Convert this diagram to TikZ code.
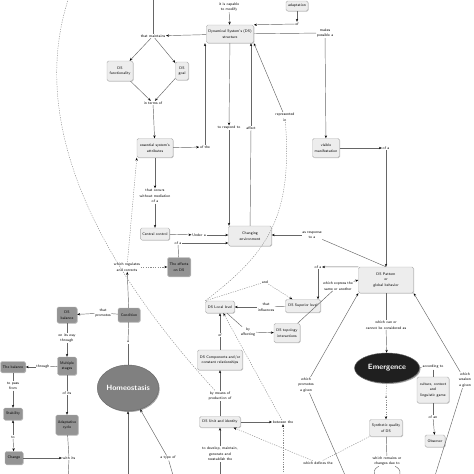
\documentclass[tikz,border=0pt]{standalone}
\usepackage{fontspec}
\usetikzlibrary{arrows.meta, shapes.geometric, shadows}

\newcommand{\mapfont}{\fontsize{3.8}{5.5}\selectfont\sffamily}
\newcommand{\bigmapfont}{\fontsize{7.6}{8}\selectfont\sffamily\bfseries}

\tikzset{
    concept/.style={draw=black!32, fill=black!7, rounded corners=1.5pt, align=center,
        inner xsep=2pt, inner ysep=2pt,
        drop shadow={shadow xshift=.6pt, shadow yshift=-.6pt, fill=black, opacity=.25}},
    darkconcept/.style={concept, fill=black!42, draw=black!30},
    link/.style={align=center, inner sep=.6pt},
    bigconcept/.style={ellipse, inner sep=0pt, text=white, font=\bigmapfont, draw=black!60,
        drop shadow={shadow xshift=1pt, shadow yshift=-1pt, fill=black, opacity=.35}},
    boxsize/.style 2 args={minimum width=#1pt, minimum height=#2pt},
    dots/.style={dash pattern=on 1.2pt off 1.2pt, draw=black!45},
}

\begin{document}
\begin{tikzpicture}[x=1pt, y=-1pt, font=\mapfont]

    \clip (0,0) rectangle (474,474);

    % Add the concepts
    \node[concept, boxsize={22}{10}]        (adapt)    at (297,6)     {adaptation};
    \node[concept, boxsize={46}{18}]        (dss)      at (230,34)    {Dynamical System's (DS)\\structure};
    \node[concept, boxsize={26}{20}]        (func)     at (120,71)    {DS\\functionality};
    \node[concept, boxsize={13}{18}]        (goal)     at (182,71)    {DS\\goal};
    \node[concept, boxsize={36}{19}]        (ess)      at (155,148)   {essential system's\\attributes};
    \node[concept, boxsize={27}{19}]        (vis)      at (326,148)   {visible\\manifestation};
    \node[concept, boxsize={27}{12}]        (central)  at (155,234)   {Central control};
    \node[concept, boxsize={43}{20}]        (env)      at (250,236)   {Changing\\environment};
    \node[concept, boxsize={55}{26}]        (pattern)  at (386,280)   {DS Pattern\\or\\global behavior};
    \node[concept, boxsize={35}{13}]        (sup)      at (303,306)   {DS Superior level};
    \node[concept, boxsize={29}{12}]        (local)    at (220,307)   {DS Local level};
    \node[concept, boxsize={26}{19}]        (topo)     at (287,333)   {DS topology\\interactions};
    \node[concept, boxsize={45}{20}]        (comp)     at (220,360)   {DS Components and/or\\constant relationships};
    \node[concept, boxsize={41}{11}]        (unit)     at (220,422)   {DS Unit and identity};
    \node[concept, boxsize={32}{26}]        (culture)  at (433,390)   {culture, context\\and\\linguistic game};
    \node[concept, boxsize={20}{12}]        (observer) at (435,441)   {Observer};
    \node[concept, boxsize={33}{17}]        (synth)    at (386,428)   {Synthetic quality\\of DS};

    \node[darkconcept, boxsize={23}{19}]    (effects)  at (179,267)   {The effects\\on DS};
    \node[darkconcept, boxsize={22}{14}]    (cond)     at (129,315)   {Condition};
    \node[darkconcept, boxsize={20}{16}]    (balance)  at (67,315)    {DS\\balance};
    \node[darkconcept, boxsize={19}{18}]    (stages)   at (67,366)    {Multiple\\stages};
    \node[darkconcept, boxsize={25}{11}]    (thebal)   at (13,367)    {The balance};
    \node[darkconcept, boxsize={19}{12}]    (stab)     at (13,414)    {Stability};
    \node[darkconcept, boxsize={18}{13}]    (change)   at (14,458)    {Change};
    \node[darkconcept, boxsize={20}{20}]    (cycle)    at (67,425)    {Adaptative\\cycle};

    \node[bigconcept, fill=black!88, boxsize={65}{30}] (emerg) at (387,368) {Emergence};
    \node[bigconcept, fill=black!50, boxsize={57}{46}] (homeo) at (128,388) {Homeostasis};

    % Add the linking phrases
    \node[link] (capable)   at (229,7)   {it is capable\\to modify};
    \node[link] (ofadapt)   at (297,24)  {of};
    \node[link] (maint)     at (153,36)  {that maintains};
    \node[link] (terms)     at (153,103) {in terms of};
    \node[link] (ofthe)     at (205,147) {of the};
    \node[link] (respond)   at (229,128) {to respond to};
    \node[link] (affect)    at (251,128) {affect};
    \node[link] (repr)      at (285,117) {represented\\in};
    \node[link] (makes)     at (325,33)  {makes\\possible a};
    \node[link] (ofa1)      at (386,148) {of a};
    \node[link] (occurs)    at (155,196) {that occurs\\without mediation\\of a};
    \node[link] (under)     at (199,235) {Under a};
    \node[link] (ofa2)      at (178,243) {of a};
    \node[link] (regul)     at (127,267) {which regulates\\and corrects};
    \node[link] (resp)      at (312,235) {as response\\to a};
    \node[link] (ofa3)      at (318,267) {of a};
    \node[link] (express)   at (338,286) {which express the\\same or another};
    \node[link] (influ)     at (266,307) {that\\influences};
    \node[link] (andl)      at (265,282) {and};
    \node[link] (affecting) at (248,332) {by\\affecting};
    \node[link] (of1)       at (220,335) {of};
    \node[link] (means)     at (220,396) {by means of\\production of};
    \node[link] (between)   at (283,422) {between the};
    \node[link] (develop)   at (220,454) {to develop, maintain,\\generate and\\reestablish the};
    \node[link] (defines)   at (318,463) {which defines the};
    \node[link] (consid)    at (386,325) {which can or\\cannot be considered as};
    \node[link] (accord)    at (433,367) {according to};
    \node[link] (ofan)      at (433,417) {of an};
    \node[link] (weaken)    at (465,380) {which\\weaken\\a given};
    \node[link] (promotes)  at (306,385) {which\\promotes\\a given};
    \node[link] (a2)        at (386,398) {a};
    \node[link] (remains)   at (387,461) {which remains or\\changes due to};
    \node[link] (a1)        at (128,342) {a};
    \node[link] (promotesl) at (103,313) {that\\promotes};
    \node[link] (way)       at (67,338)  {on its way\\through};
    \node[link] (through)   at (43,367)  {through};
    \node[link] (pass)      at (13,386)  {to pass\\from};
    \node[link] (to)        at (13,437)  {to};
    \node[link] (ofits)     at (67,393)  {of its};
    \node[link] (withits)   at (69,458)  {with its};
    \node[link] (typeof)    at (168,458) {a type of};

    % Free ends outside the frame
    \coordinate (topline)    at (153,-6);
    \coordinate (topdash)    at (70,-6);
    \coordinate (cyclebelow) at (68,482);
    \coordinate (homeobelow) at (128,482);
    \coordinate (typebelow)  at (175,482);
    \coordinate (devbelow)   at (220,482);
    \coordinate (betwbelow)  at (283,482);
    \coordinate (weakbelow)  at (433,482);
    \coordinate (promobelow) at (348,482);
    \coordinate (remleft)    at (377,482);
    \coordinate (remright)   at (398,482);

    % Connect the concepts
    \draw[line width=.45pt,
          color=black!60,
          >={Stealth[length=3pt, width=2.4pt, color=black]}]
        (capable)   edge[->] (dss)
        (adapt)     edge[->] (ofadapt)
        (ofadapt)   edge[->] (dss.north east)
        (dss)       edge[->] (maint)
        (maint)     edge     (topline)
        (maint)     edge[->] (func)
        (maint)     edge[->] (goal)
        (func)      edge[->] (terms)
        (goal)      edge[->] (terms)
        (terms)     edge[->] (ess)
        (ess)       edge[->] (ofthe)
        (ofthe)     edge[->] (ofthe |- dss.south)
        (dss)       edge[->] (respond)
        (respond)   edge[->] (respond |- env.north)
        (env)       edge     (affect)
        (affect)    edge[->] (affect |- dss.south)
        (repr)      edge[->] (dss.south east)
        (dss)       edge     (makes)
        (makes)     edge[->] (vis)
        (vis)       edge[->] (ofa1)
        (ofa1)      edge[->] (pattern)
        (ess)       edge[->] (occurs)
        (occurs)    edge[->] (central)
        (central)   edge[->] (under)
        (under)     edge[->] (under -| env.west)
        (effects)   edge     (ofa2)
        (ofa2)      edge[->] (ofa2 -| env.west)
        (cond)      edge[->] (regul)
        (regul)     edge[dots, ->] (effects)
        (regul)     edge[dots, ->] (ess.south west)
        (pattern.north) edge (resp)
        (resp)      edge[->] (resp -| env.east)
        (pattern.north west) edge[->] (ofa3)
        (ofa3)      edge[->] (ofa3 |- sup.north)
        (topo)      edge     (express)
        (express)   edge[->] (pattern.west)
        (sup)       edge     (influ)
        (influ)     edge[->] (local)
        (local)     edge     (affecting)
        (affecting) edge[->] (topo)
        (local.north west) edge[dots] (andl)
        (andl)      edge[dots, ->] (sup)
        (comp)      edge     (of1)
        (of1)       edge[->] (local)
        (means)     edge[->] (comp)
        (unit)      edge     (means)
        (unit)      edge[->] (between)
        (between)   edge[dots, ->] (local)
        (betwbelow) edge[dots, ->] (between)
        (develop)   edge[->] (unit)
        (devbelow)  edge     (develop)
        (synth)     edge[dots] (defines)
        (defines)   edge[dots, ->] (unit)
        (pattern)   edge     (consid)
        (consid)    edge[->] (emerg)
        (emerg)     edge     (accord)
        (accord)    edge     (culture)
        (culture)   edge     (ofan)
        (ofan)      edge[->] (observer)
        (weaken)    edge[->] (pattern.south east)
        (weakbelow) edge     (weaken)
        (promotes)  edge[->] (pattern.south west)
        (promotes)  edge     (promobelow)
        (emerg)     edge[dots] (a2)
        (a2)        edge[dots, ->] (synth)
        (synth)     edge     (remains)
        (homeo)     edge     (a1)
        (a1)        edge     (cond)
        (cond)      edge     (promotesl)
        (promotesl) edge[->] (balance)
        (balance)   edge     (way)
        (way)       edge[->] (stages)
        (stages)    edge     (through)
        (through)   edge[->] (thebal)
        (thebal)    edge     (pass)
        (pass)      edge[->] (stab)
        (to)        edge[->] (stab)
        (to)        edge[->] (change)
        (stages)    edge     (ofits)
        (ofits)     edge[->] (cycle)
        (cycle)     edge     (withits)
        (change)    edge[->] (withits)
        (withits)   edge[->] (cyclebelow)
        (homeobelow) edge[->] (homeo)
        (typebelow) edge     (typeof)
        (typeof)    edge[->] (homeo);

    % Long dotted links
    \draw[dots, line width=.45pt] (topdash) .. controls (40,80) and (50,210) .. (means);
    \draw[dots, line width=.45pt] (repr) .. controls (293,220) and (265,255) .. (local.north west);
    \draw[line width=.45pt, color=black!60]
        (remains) .. controls (373,470) .. (remleft)
        (remains) .. controls (401,470) .. (remright);

\end{tikzpicture}
\end{document}
